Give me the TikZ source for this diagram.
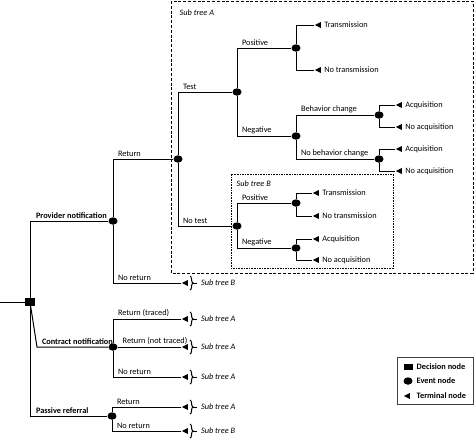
\documentclass[tikz,border=0pt]{standalone}
\usepackage{fontspec}
\setmainfont{Carlito}
\usetikzlibrary{arrows.meta, positioning, shapes.geometric, decorations.pathreplacing}

\begin{document}
\begin{tikzpicture}[
    x=1pt, y=-1pt,
    txt/.style = {font=\fontsize{8.3}{10}\selectfont, inner sep=1.5pt},
    decision/.style = {fill, rectangle, minimum width=10pt, minimum height=8pt, inner sep=0pt},
    event/.style = {fill, ellipse, minimum width=9pt, minimum height=7.5pt, inner sep=0pt},
    terminal/.style = {fill, isosceles triangle, isosceles triangle stretches,
      shape border rotate=180, inner sep=0pt, minimum width=6pt, minimum height=6pt},
    conn/.style = {line width=1pt},
    lbl/.style = {txt, anchor=south west, xshift=3pt, pos=0.5},
    brc/.style = {decorate, decoration={brace, amplitude=3pt}},
    boxA/.style = {line width=1pt, dash pattern=on 3pt off 1.8pt},
    boxB/.style = {line width=0.8pt, dash pattern=on 1.6pt off 1pt}
  ]
  \useasboundingbox (0,0) rectangle (474,440);

  % Sub tree frames
  \draw[boxA] (171,1) rectangle (473,273);
  \node[txt, anchor=west, font=\fontsize{8.3}{10}\selectfont\itshape] (subA) at (178,13) {Sub tree A};
  \draw[boxB] (231,174) rectangle (393,268);
  \node[txt, anchor=west, font=\fontsize{8.3}{10}\selectfont\itshape] (subB) at (235,184) {Sub tree B};

  % Decision node and strategies
  \coordinate (in) at (0,302);
  \node[decision] (dec) at (30,302) {};
  \node[event] (pn) at (113,221) {};
  \coordinate (cnk) at (37,347);
  \node[event] (cn) at (113,347) {};
  \node[event] (pr) at (112,416) {};

  \draw[conn] (in) -- (dec);
  \draw[conn] (dec) |- node[lbl, xshift=1pt] (l-pn) {\bfseries Provider notification} (pn);
  \draw[conn] (dec) -- (cnk) -- node[lbl, pos=0, xshift=0pt] (l-cn) {\bfseries Contract notification} (cn);
  \draw[conn] (dec) |- node[lbl, xshift=1pt] (l-pr) {\bfseries Passive referral} (pr);

  % Provider notification
  \node[event] (tst) at (178,159) {};
  \node[terminal] (pnr) at (186,283) {};
  \draw[conn] (pn) |- node[lbl] (l-ret) {Return} (tst);
  \draw[conn] (pn) |- node[lbl] (l-nret) {No return} (pnr);

  % Test / no test
  \node[event] (te) at (237,92) {};
  \node[event] (nte) at (237,226) {};
  \draw[conn] (tst) |- node[lbl] (l-te) {Test} (te);
  \draw[conn] (tst) |- node[lbl] (l-nte) {No test} (nte);

  \node[event] (tpos) at (296,48) {};
  \node[event] (tneg) at (296,136) {};
  \node[event] (bc) at (379,115) {};
  \node[event] (nbc) at (379,159) {};
  \draw[conn] (te) |- node[lbl] (l-tpos) {Positive} (tpos);
  \draw[conn] (te) |- node[lbl] (l-tneg) {Negative} (tneg);
  \draw[conn] (tneg) |- node[lbl] (l-bc) {Behavior change} (bc);
  \draw[conn] (tneg) |- node[lbl] (l-nbc) {No behavior change} (nbc);

  \node[event] (bpos) at (296,203) {};
  \node[event] (bneg) at (296,248) {};
  \draw[conn] (nte) |- node[lbl] (l-bpos) {Positive} (bpos);
  \draw[conn] (nte) |- node[lbl] (l-bneg) {Negative} (bneg);

  % Terminal nodes with outcomes
  \node[terminal] (tr1) at (319,25) {};
  \node[terminal] (ntr1) at (319,70) {};
  \node[terminal] (acq1) at (400,105) {};
  \node[terminal] (nacq1) at (400,127) {};
  \node[terminal] (acq2) at (400,149) {};
  \node[terminal] (nacq2) at (400,171) {};
  \node[terminal] (tr2) at (317,193) {};
  \node[terminal] (ntr2) at (317,216) {};
  \node[terminal] (acq3) at (317,239) {};
  \node[terminal] (nacq3) at (317,260) {};

  \foreach \a/\b in {tpos/tr1, tpos/ntr1, bc/acq1, bc/nacq1, nbc/acq2, nbc/nacq2,
      bpos/tr2, bpos/ntr2, bneg/acq3, bneg/nacq3}
    \draw[conn] (\a) |- (\b);

  \foreach \t/\l in {tr1/Transmission, ntr1/No transmission, acq1/Acquisition,
      nacq1/No acquisition, acq2/Acquisition, nacq2/No acquisition, tr2/Transmission,
      ntr2/No transmission, acq3/Acquisition, nacq3/No acquisition}
    \node[txt, right=1.5pt of \t] (l-\t) {\l};

  % Contract notification and passive referral
  \node[terminal] (cnt) at (186,319) {};
  \node[terminal] (cnn) at (186,347) {};
  \node[terminal] (cnr) at (186,377) {};
  \node[terminal] (prr) at (186,407) {};
  \node[terminal] (prn) at (186,431) {};
  \draw[conn] (cn) |- node[lbl] (l-cnt) {Return (traced)} (cnt);
  \draw[conn] (cn) -- node[lbl, pos=0, xshift=0pt] (l-cnn) {Return (not traced)} (cnn);
  \draw[conn] (cn) |- node[lbl] (l-cnr) {No return} (cnr);
  \draw[conn] (pr) |- node[lbl] (l-prr) {Return} (prr);
  \draw[conn] (pr) |- node[lbl] (l-prn) {No return} (prn);

  % references to the sub trees
  \foreach \t/\s in {pnr/B, cnt/A, cnn/A, cnr/A, prr/A, prn/B} {
    \draw[conn, brc] ([xshift=2pt, yshift=7pt]\t.east) -- ([xshift=2pt, yshift=-7pt]\t.east);
    \draw[conn] ([xshift=5pt]\t.east) -- ++(4pt,0)
      node[txt, anchor=west, xshift=2pt, font=\fontsize{8.3}{10}\selectfont\itshape] (ref-\t) {Sub tree \s};
  }

  % Legend
  \draw[line width=0.9pt, draw=black!75] (397,357) rectangle (473,404);
  \node[decision, minimum width=9pt, minimum height=6pt] (ld) at (408,367) {};
  \node[event] (le) at (408,381) {};
  \node[terminal] (lt) at (408,396) {};
  \node[txt, anchor=west, font=\fontsize{8.3}{10}\selectfont\bfseries] (l-ld) at (415,367) {Decision node};
  \node[txt, anchor=west, font=\fontsize{8.3}{10}\selectfont\bfseries] (l-le) at (415,381) {Event node};
  \node[txt, anchor=west, font=\fontsize{8.3}{10}\selectfont\bfseries] (l-lt) at (415,396) {Terminal node};

\end{tikzpicture}
\end{document}
